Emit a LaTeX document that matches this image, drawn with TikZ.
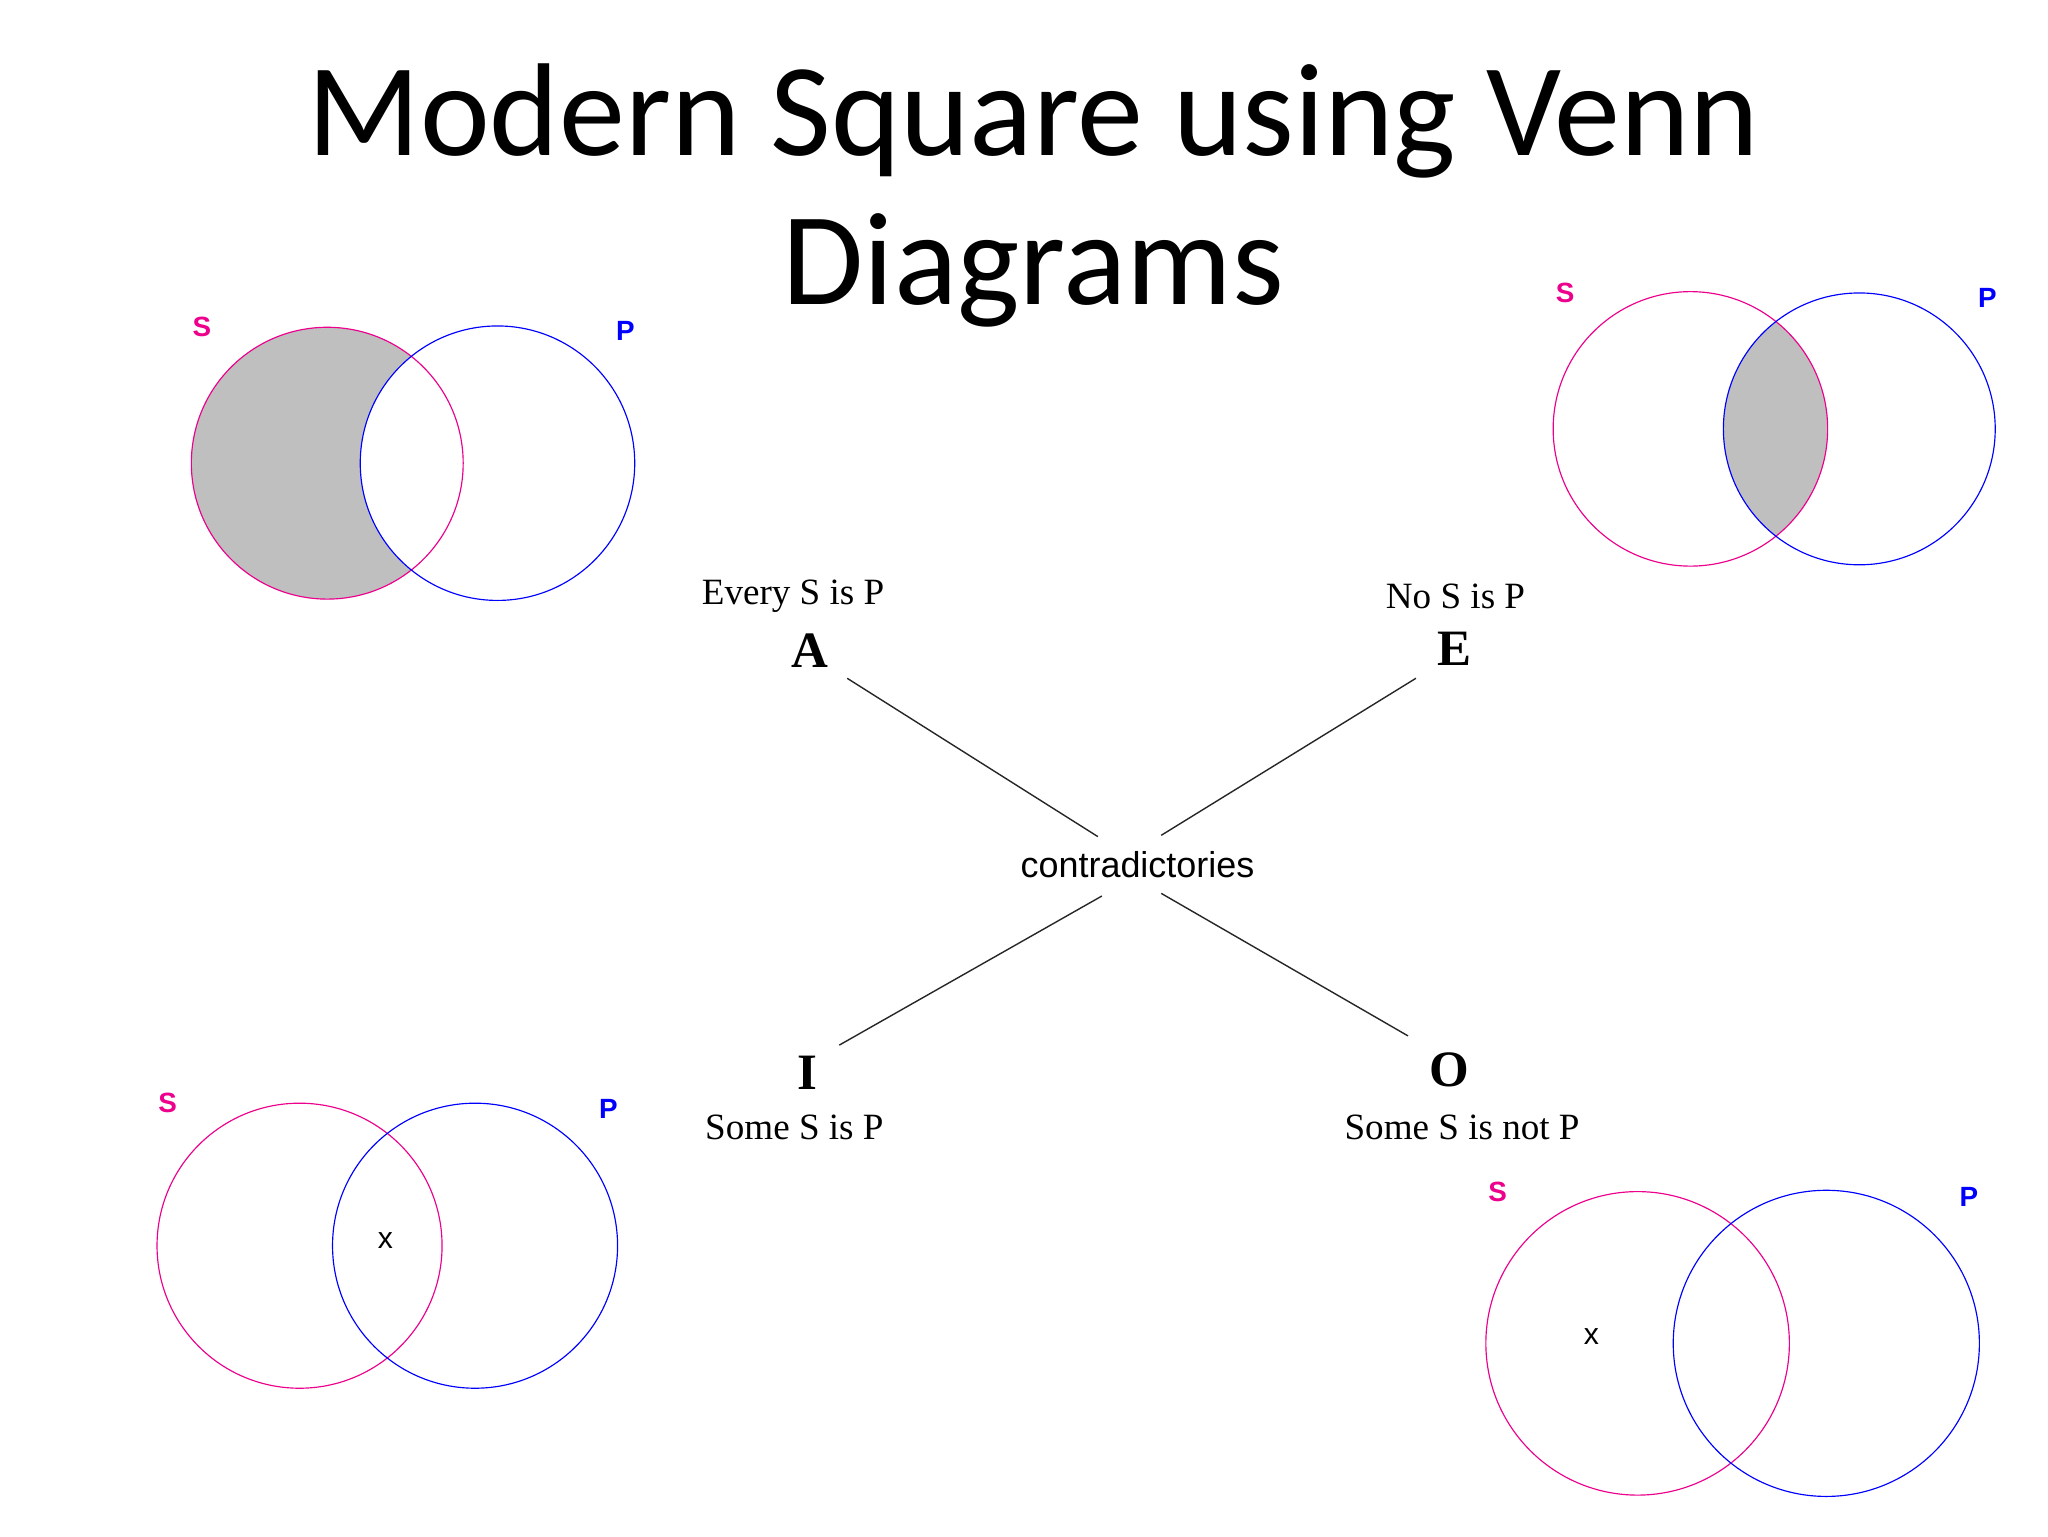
\documentclass[tikz,border=0pt]{standalone}
\usepackage{fontspec}
\setmainfont{Liberation Serif}
\newfontfamily\titlefont{Carlito}
\newfontfamily\sansf{Liberation Sans}
\begin{document}
\begin{tikzpicture}[x=0.02cm,y=-0.02cm,
  sc/.style={draw=magenta,line width=0.5pt},
  pc/.style={draw=blue,line width=0.5pt},
  slab/.style={text=magenta,font=\sansf\bfseries\fontsize{12}{14}\selectfont},
  plab/.style={text=blue,font=\sansf\bfseries\fontsize{12}{14}\selectfont},
  stmt/.style={font=\fontsize{16}{19}\selectfont},
  letter/.style={font=\bfseries\fontsize{22}{26}\selectfont},
  xm/.style={font=\sansf\fontsize{13}{15}\selectfont},
  ln/.style={draw=black!85,line width=0.6pt}]
\useasboundingbox[fill=white] (0,0) rectangle (1552,1164);
\node[font=\titlefont\fontsize{57}{68}\selectfont] (t1) at (783,92) {Modern Square using Venn};
\node[font=\titlefont\fontsize{57}{68}\selectfont] (t2) at (783,205) {Diagrams};
% top-left A
\begin{scope}
  \clip (248,351) circle (103);
  \fill[black!25] (0,0) rectangle (1552,1164);
  \fill[white] (377,351) circle (104);
\end{scope}
\draw[sc] (248,351) circle (103);
\draw[pc] (377,351) circle (104);
\node[slab] (s1) at (153,248) {S};
\node[plab] (p1) at (474,251) {P};
% top-right E
\begin{scope}
  \clip (1281,325) circle (104);
  \fill[black!25] (1409,325) circle (103);
\end{scope}
\draw[sc] (1281,325) circle (104);
\draw[pc] (1409,325) circle (103);
\node[slab] (s2) at (1186,222) {S};
\node[plab] (p2) at (1506,226) {P};
% bottom-left I
\draw[sc] (227,944) circle (108);
\draw[pc] (360,944) circle (108);
\node[xm] (x1) at (292,940) {x};
\node[slab] (s3) at (127,836) {S};
\node[plab] (p3) at (461,840) {P};
% bottom-right O
\draw[sc] (1241,1018) circle (115);
\draw[pc] (1384,1018) circle (116);
\node[xm] (x2) at (1206,1013) {x};
\node[slab] (s4) at (1135,903) {S};
\node[plab] (p4) at (1492,907) {P};
% square
\node[stmt] (ta) at (601,452) {Every S is P};
\node[letter] (A) at (614,493) {A};
\node[stmt] (te) at (1103,452) {No S is P};
\node[letter] (E) at (1102,492) {E};
\node[letter] (I) at (612,813) {I};
\node[stmt] (ti) at (602,854) {Some S is P};
\node[letter] (O) at (1098,811) {O};
\node[stmt] (to) at (1108,854) {Some S is not P};
\node[font=\sansf\fontsize{15.5}{18}\selectfont] (c) at (862,655) {contradictories};
\coordinate (a1) at (642,514); \coordinate (a2) at (832,634);
\coordinate (e1) at (1073,514); \coordinate (e2) at (880,633);
\coordinate (i1) at (636,792); \coordinate (i2) at (835,679);
\coordinate (o1) at (1067,785); \coordinate (o2) at (880,677);
\draw[ln] (a1) -- (a2);
\draw[ln] (e1) -- (e2);
\draw[ln] (i2) -- (i1);
\draw[ln] (o2) -- (o1);
\end{tikzpicture}
\end{document}
